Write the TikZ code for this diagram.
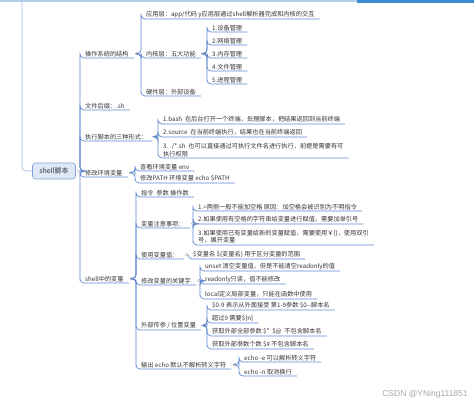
\documentclass[tikz,border=0pt]{standalone}
\usepackage{fontspec}
\setmainfont{Noto Sans CJK SC}
\newfontfamily\wmfont{Liberation Sans}
\definecolor{linkblue}{RGB}{96,136,206}
\definecolor{bandlight}{RGB}{178,208,236}
\definecolor{banddark}{RGB}{58,138,208}
\definecolor{rootfill}{RGB}{222,233,248}

\begin{document}
\begin{tikzpicture}[x=1pt,y=-1pt,
    topic/.style={anchor=south west,inner xsep=5pt,inner ysep=1.2pt,align=left,
      font=\fontsize{6.2}{7.5}\selectfont,text=black!80},
    knob/.style={circle,draw=gray!60,fill=white,inner sep=0pt,minimum size=3pt,line width=0.4pt},
    link/.style={draw=linkblue,line width=0.7pt,rounded corners=4pt},
    rootbox/.style={draw=linkblue!80,fill=rootfill,rounded corners=3pt,line width=0.6pt,
      minimum width=43pt,minimum height=16pt,inner sep=0pt,font=\fontsize{7}{8}\selectfont,text=black!80}]
    \useasboundingbox (0,0) rectangle (474,404);
    \fill[bandlight] (0,0) rectangle (474,2.5);
    \fill[banddark] (357,0) rectangle (474,3);

    % root
    \node[rootbox] (root) at (54,171) {shell脚本};
    \node[knob] (m-root) at ([xshift=3pt]root.east) {};
    \coordinate (top) at (22,0);
    \draw[link,draw=linkblue!60] (top) |- (root.west);

    % first level
    \node[topic] (os) at (80,58) {操作系统的结构};
    \node[topic] (suffix) at (80,110) {文件后缀：.sh};
    \node[topic] (exec) at (80,141) {执行脚本的三种形式：};
    \node[topic] (env) at (80,177) {修改环境变量};
    \node[topic] (var) at (80,283) {shell中的变量};
    \draw[link] (m-root.east) -- (m-root.east -| os.south west) |- (os.south west) -- (os.south east);
    \draw[link] (m-root.east) -- (m-root.east -| suffix.south west) |- (suffix.south west) -- (suffix.south east);
    \draw[link] (m-root.east) -- (m-root.east -| exec.south west) |- (exec.south west) -- (exec.south east);
    \draw[link] (m-root.east) -- (m-root.east -| env.south west) |- (env.south west) -- (env.south east);
    \draw[link] (m-root.east) -- (m-root.east -| var.south west) |- (var.south west) -- (var.south east);
    \node[knob] (m-os) at ([xshift=3pt]os.east) {};
    \node[knob] (m-exec) at ([xshift=3pt]exec.east) {};
    \node[knob] (m-env) at ([xshift=3pt]env.east) {};
    \node[knob] (m-var) at ([xshift=3pt]var.east) {};

    % os structure
    \node[topic] (app) at (141,19) {应用层：app/代码 y应用层通过shell解析器完成和内核的交互};
    \node[topic] (kernel) at (141,58) {内核层：五大功能};
    \node[topic] (hw) at (141,96) {硬件层：外部设备};
    \draw[link] (m-os.east) -- (m-os.east -| app.south west) |- (app.south west) -- (app.south east);
    \draw[link] (m-os.east) -- (m-os.east -| kernel.south west) |- (kernel.south west) -- (kernel.south east);
    \draw[link] (m-os.east) -- (m-os.east -| hw.south west) |- (hw.south west) -- (hw.south east);
    \node[knob] (m-kernel) at ([xshift=3pt]kernel.east) {};

    \node[topic] (k1) at (207,32) {1.设备管理};
    \node[topic] (k2) at (207,45) {2.网络管理};
    \node[topic] (k3) at (207,58) {3.内存管理};
    \node[topic] (k4) at (207,71) {4.文件管理};
    \node[topic] (k5) at (207,84) {5.进程管理};
    \draw[link] (m-kernel.east) -- (m-kernel.east -| k1.south west) |- (k1.south west) -- (k1.south east);
    \draw[link] (m-kernel.east) -- (m-kernel.east -| k2.south west) |- (k2.south west) -- (k2.south east);
    \draw[link] (m-kernel.east) -- (m-kernel.east -| k3.south west) |- (k3.south west) -- (k3.south east);
    \draw[link] (m-kernel.east) -- (m-kernel.east -| k4.south west) |- (k4.south west) -- (k4.south east);
    \draw[link] (m-kernel.east) -- (m-kernel.east -| k5.south west) |- (k5.south west) -- (k5.south east);

    % ways to run a script
    \node[topic] (e1) at (158,124) {1.bash\ \ 在后台打开一个终端，处理脚本，把结果返回到当前终端};
    \node[topic] (e2) at (158,137) {2.source\ \ 在当前终端执行，结果也在当前终端返回};
    \node[topic] (e3) at (158,158) {3. ./*.sh\ \ 也可以直接通过可执行文件名进行执行，前提是需要有可\\执行权限};
    \draw[link] (m-exec.east) -- (m-exec.east -| e1.south west) |- (e1.south west) -- (e1.south east);
    \draw[link] (m-exec.east) -- (m-exec.east -| e2.south west) |- (e2.south west) -- (e2.south east);
    \draw[link] (m-exec.east) -- (m-exec.east -| e3.south west) |- (e3.south west) -- (e3.south east);

    % environment
    \node[topic] (v1) at (135,171) {查看环境变量 env};
    \node[topic] (v2) at (135,183) {修改PATH 环境变量 echo \$PATH};
    \draw[link] (m-env.east) -- (m-env.east -| v1.south west) |- (v1.south west) -- (v1.south east);
    \draw[link] (m-env.east) -- (m-env.east -| v2.south west) |- (v2.south west) -- (v2.south east);

    % variables
    \node[topic] (instr) at (136,197) {指令\ \ 参数 操作数};
    \node[topic] (note) at (136,228) {变量注意事项：};
    \node[topic] (use) at (136,259) {使用变量值：};
    \node[topic] (kw) at (136,285) {修改变量的关键字};
    \node[topic] (pos) at (136,330) {外部传参 / 位置变量};
    \node[topic] (echo) at (136,369) {输出 echo 默认不解析转义字符};
    \draw[link] (m-var.east) -- (m-var.east -| instr.south west) |- (instr.south west) -- (instr.south east);
    \draw[link] (m-var.east) -- (m-var.east -| note.south west) |- (note.south west) -- (note.south east);
    \draw[link] (m-var.east) -- (m-var.east -| use.south west) |- (use.south west) -- (use.south east);
    \draw[link] (m-var.east) -- (m-var.east -| kw.south west) |- (kw.south west) -- (kw.south east);
    \draw[link] (m-var.east) -- (m-var.east -| pos.south west) |- (pos.south west) -- (pos.south east);
    \draw[link] (m-var.east) -- (m-var.east -| echo.south west) |- (echo.south west) -- (echo.south east);
    \node[knob] (m-note) at ([xshift=3pt]note.east) {};
    \node[knob] (m-use) at ([xshift=3pt]use.east) {};
    \node[knob] (m-kw) at ([xshift=3pt]kw.east) {};
    \node[knob] (m-pos) at ([xshift=3pt]pos.east) {};
    \node[knob] (m-echo) at ([xshift=3pt]echo.east) {};

    \node[topic] (n1) at (193,211) {1.=两侧一般不能加空格 原因：加空格会被识别为不明指令};
    \node[topic] (n2) at (193,224) {2.如果使用有空格的字符串给变量进行赋值，需要加单引号};
    \node[topic] (n3) at (193,245) {3.如果使用已有变量给新的变量赋值，需要使用￥\{\}，使用双引\\号，展开变量};
    \draw[link] (m-note.east) -- (m-note.east -| n1.south west) |- (n1.south west) -- (n1.south east);
    \draw[link] (m-note.east) -- (m-note.east -| n2.south west) |- (n2.south west) -- (n2.south east);
    \draw[link] (m-note.east) -- (m-note.east -| n3.south west) |- (n3.south west) -- (n3.south east);

    \node[topic] (val) at (188,259) {\$变量名 \$\{变量名\} 用于区分变量的范围};
    \draw[link] (m-use.east) -- (val.south west) -- (val.south east);

    \node[topic] (u1) at (200,271) {unset 清空变量值，但是不能清空readonly的值};
    \node[topic] (u2) at (200,284) {readonly只读，值不能修改};
    \node[topic] (u3) at (200,299) {local定义局部变量，只能在函数中使用};
    \draw[link] (m-kw.east) -- (m-kw.east -| u1.south west) |- (u1.south west) -- (u1.south east);
    \draw[link] (m-kw.east) -- (m-kw.east -| u2.south west) |- (u2.south west) -- (u2.south east);
    \draw[link] (m-kw.east) -- (m-kw.east -| u3.south west) |- (u3.south west) -- (u3.south east);

    \node[topic] (p1) at (207,310) {\$0-9 表示从外面接受 第1-9参数 \$0-{}-脚本名};
    \node[topic] (p2) at (207,323) {超过9 需要\$\{n\}};
    \node[topic] (p3) at (207,336) {获取外部全部参数 \$*\ \ \$@\ \ 不包含脚本名};
    \node[topic] (p4) at (207,349) {获取外部参数个数 \$\# 不包含脚本名};
    \draw[link] (m-pos.east) -- (m-pos.east -| p1.south west) |- (p1.south west) -- (p1.south east);
    \draw[link] (m-pos.east) -- (m-pos.east -| p2.south west) |- (p2.south west) -- (p2.south east);
    \draw[link] (m-pos.east) -- (m-pos.east -| p3.south west) |- (p3.south west) -- (p3.south east);
    \draw[link] (m-pos.east) -- (m-pos.east -| p4.south west) |- (p4.south west) -- (p4.south east);

    \node[topic] (o1) at (239,362) {echo -e 可以解析转义字符};
    \node[topic] (o2) at (239,376) {echo -n 取消换行};
    \draw[link] (m-echo.east) -- (m-echo.east -| o1.south west) |- (o1.south west) -- (o1.south east);
    \draw[link] (m-echo.east) -- (m-echo.east -| o2.south west) |- (o2.south west) -- (o2.south east);

    \node[text=black!35,font=\wmfont\fontsize{8.5}{10}\selectfont] (wm) at (425,394) {CSDN @YNing111851};
\end{tikzpicture}
\end{document}
